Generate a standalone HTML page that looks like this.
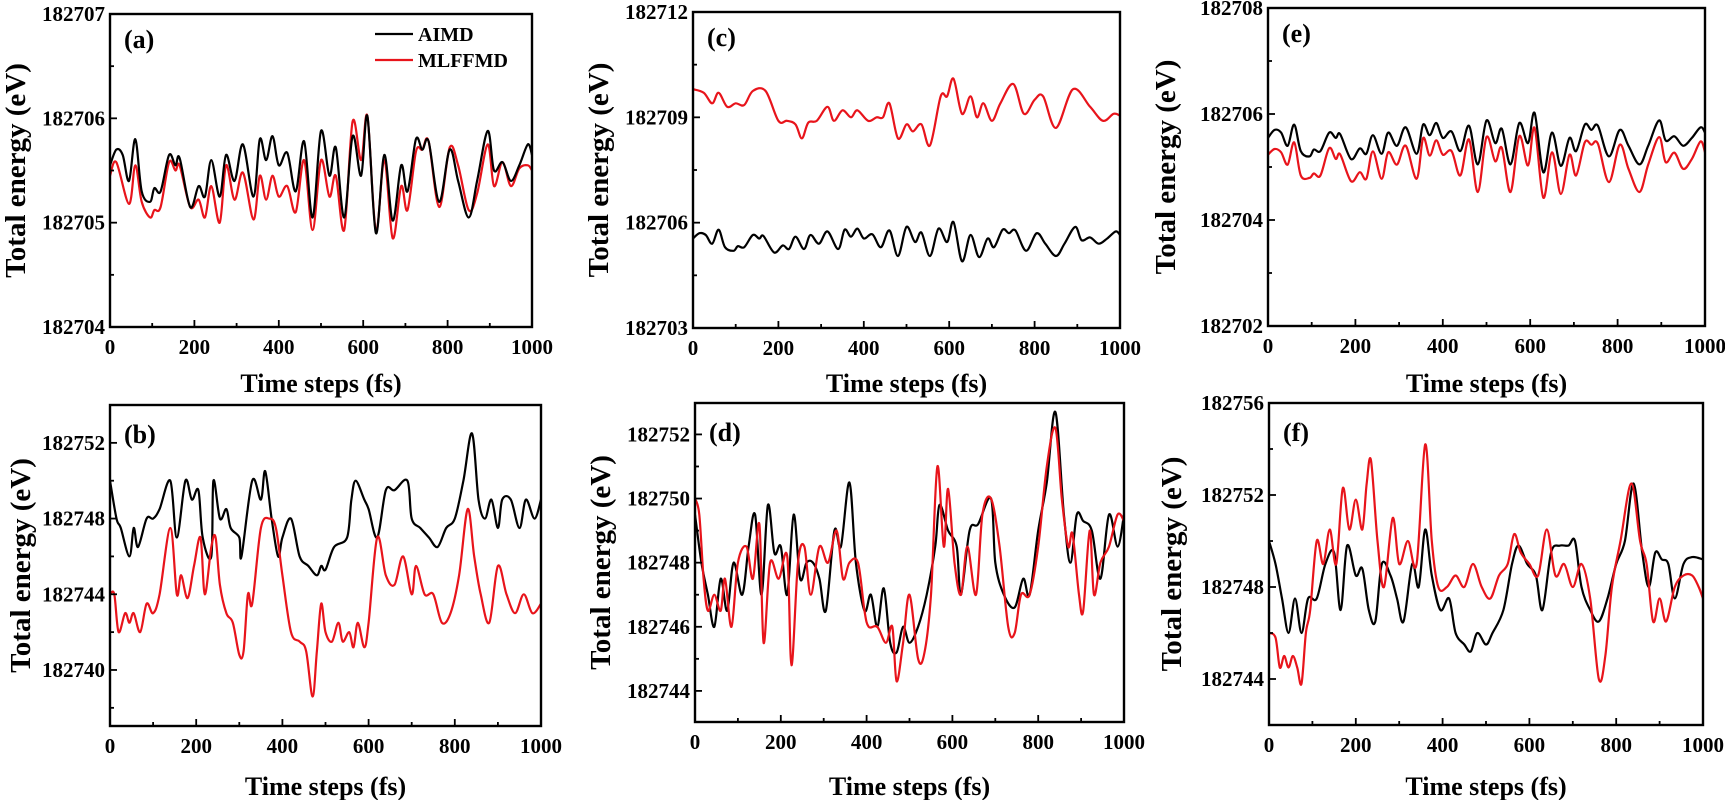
<!DOCTYPE html>
<html><head><meta charset="utf-8"><style>
html,body{margin:0;padding:0;background:#fff;}
svg text{font-family:"Liberation Serif",serif;font-weight:bold;fill:#000;}
</style></head><body>
<svg id="s" width="1725" height="800" xmlns="http://www.w3.org/2000/svg"></svg>
<script>
const S=document.getElementById('s');let out='';
const aB=[[0,5.55],[15,5.7],[30,5.65],[45,5.4],[60,5.8],[75,5.3],[95,5.2],[105,5.33],[120,5.3],[140,5.65],[155,5.55],[165,5.62],[190,5.15],[210,5.35],[225,5.25],[240,5.6],[260,5.25],[275,5.65],[295,5.4],[315,5.75],[340,5.25],[355,5.8],[370,5.6],[385,5.83],[400,5.55],[420,5.67],[440,5.3],[460,5.78],[480,5.05],[500,5.88],[520,5.45],[535,5.72],[555,5.05],[575,5.83],[595,5.45],[610,6.02],[630,4.9],[650,5.65],[670,5.02],[690,5.55],[705,5.3],[725,5.8],[740,5.7],[755,5.78],[780,5.2],[805,5.7],[825,5.4],[850,5.05],[870,5.4],[895,5.88],[910,5.5],[930,5.58],[950,5.4],[970,5.55],[990,5.75],[1000,5.65]];
const aR=[[0,5.45],[15,5.58],[45,5.18],[60,5.55],[75,5.2],[95,5.05],[105,5.12],[120,5.15],[140,5.58],[155,5.5],[165,5.55],[190,5.15],[210,5.22],[225,5.05],[240,5.35],[260,5.0],[275,5.55],[295,5.22],[315,5.48],[340,5.03],[355,5.45],[370,5.22],[385,5.45],[400,5.25],[420,5.35],[440,5.1],[460,5.6],[480,4.93],[500,5.6],[520,5.25],[535,5.45],[555,4.93],[575,5.97],[595,5.6],[610,6.02],[630,4.92],[650,5.6],[670,4.85],[690,5.35],[705,5.12],[725,5.68],[740,5.7],[755,5.78],[780,5.15],[805,5.72],[825,5.55],[850,5.12],[870,5.28],[895,5.75],[910,5.35],[930,5.58],[950,5.35],[970,5.52],[990,5.55],[1000,5.5]];
const eR=aB.map(([x,y],i)=>[x,5.5+(y-5.5)*1.25-0.38+(i%3==0?0.05:-0.03)]);
const cR=[[0,9.8],[25,9.7],[45,9.4],[60,9.7],[80,9.3],[100,9.4],[120,9.35],[140,9.75],[170,9.75],[200,8.9],[220,8.9],[240,8.8],[255,8.4],[270,8.85],[290,8.9],[315,9.3],[330,8.9],[350,9.2],[370,9.0],[385,9.2],[410,8.9],[430,9.0],[445,9.0],[460,9.4],[480,8.4],[500,8.8],[515,8.6],[535,8.8],[555,8.2],[580,9.6],[595,9.6],[610,10.1],[630,9.1],[650,9.6],[665,9.0],[680,9.4],[700,8.9],[720,9.4],[750,9.95],[775,9.1],[800,9.5],[820,9.6],[850,8.7],[890,9.8],[930,9.3],[960,8.9],[985,9.1],[1000,9.05]];
const bB=[[0,750],[15,748],[25,747.5],[45,746],[55,747.5],[65,746.5],[85,748],[100,748],[115,748.5],[140,750],[155,747],[175,750],[190,749],[205,749.5],[215,747],[235,746],[240,750],[255,748],[270,748.5],[280,747.5],[300,747],[305,746],[330,750],[350,749],[360,750.5],[375,748],[390,746],[400,747],[420,748],[440,746],[460,745.5],[480,745],[490,745.5],[500,745.3],[520,746.5],[550,747],[560,749],[570,750],[590,749],[600,748.5],[620,747],[640,749.5],[660,749.5],[690,750],[700,748],[720,747.5],[740,747],[760,746.5],[780,747.5],[800,748],[820,750],[840,752.5],[855,749],[870,748],[885,749],[900,747.5],[910,749],[930,749],[950,747.5],[965,749],[985,748],[1000,749]];
const bR=[[0,744],[10,744],[20,742],[35,743],[45,742.5],[55,743],[70,742],[85,743.5],[100,743],[115,744],[140,747.5],[155,744],[165,745],[180,743.8],[195,745.5],[210,747],[220,744],[235,746.5],[245,747],[255,744.5],[270,743],[285,742.5],[300,740.8],[310,741],[320,744],[330,743.5],[350,747.5],[370,748],[385,747.5],[400,745],[420,742],[440,741.5],[455,741],[470,738.6],[480,741],[490,743.5],[500,742],[515,741.5],[530,742.5],[540,741.5],[555,742],[565,741.2],[575,742.5],[590,741.2],[600,742.5],[620,747],[640,745],[660,744.5],[680,746],[700,744],[710,745.5],[730,744],[750,744],[770,742.5],[790,743],[810,745],[830,748.5],[845,746],[860,744],[880,742.5],[900,745.5],[920,744],[940,743],[960,744],[980,743],[1000,743.5]];
const dB=[[0,749.5],[15,748],[30,747],[45,746],[60,747.5],[75,746.5],[90,748],[110,747],[125,748.5],[140,749.5],[155,747],[170,749.8],[185,748.3],[200,748.5],[215,747],[230,749.5],[245,747.5],[260,748],[275,748],[290,747.5],[305,746.5],[325,749],[340,748.5],[360,750.5],[375,748],[395,746.5],[410,747],[425,746],[440,747.2],[455,745.5],[470,745.2],[485,746],[500,745.5],[520,746],[540,747],[560,748.5],[570,749.8],[590,749],[610,748.5],[620,747],[640,749],[660,749.2],[690,750],[700,748],[720,747],[745,746.6],[765,747.5],[780,747],[800,749],[820,750.5],[840,752.7],[860,749.5],[875,748],[890,749.5],[905,749.3],[925,749],[945,747.5],[965,749.5],[985,748.5],[1000,749.5]];
const dR=[[0,750],[10,749.5],[20,747.5],[30,746.5],[45,747],[60,746.5],[70,747.5],[85,746],[100,748],[120,748.5],[135,747.5],[150,749.2],[160,745.5],[175,748],[195,747.5],[215,748.2],[225,744.8],[240,748],[255,748.5],[270,747],[290,748.5],[310,748],[330,749],[345,747.5],[360,748],[380,748],[395,746.5],[405,746],[425,746],[445,745.5],[460,746],[470,744.3],[485,745.5],[500,747],[520,745],[535,745.2],[550,747],[565,751],[580,748.5],[590,750.3],[605,748],[620,747],[635,748.5],[655,747],[670,749.5],[690,750],[710,748.5],[730,746],[745,745.8],[760,747],[780,747],[800,748.5],[820,751],[840,752.2],[855,750],[870,748.5],[880,748.9],[895,747],[905,746.5],[920,749],[930,747],[945,748],[965,748.5],[985,749.5],[1000,749.3]];
const fR=[[0,746],[15,745.8],[25,744.5],[35,745],[45,744.5],[55,745],[65,744.5],[75,743.8],[85,746],[95,747],[110,750],[125,749],[140,750.5],[155,749],[170,752.3],[185,750.5],[200,751.8],[215,750.5],[225,752.5],[235,753.5],[250,750],[265,748],[285,751],[300,749],[320,750],[340,749],[360,754.2],[375,750],[390,748],[410,748],[430,748.5],[450,748],[470,749],[490,748],[510,747.5],[530,748.5],[550,749],[565,750.3],[580,749.5],[600,749],[620,748.5],[640,750.5],[660,748.5],[680,749],[700,748],[720,749],[740,747.5],[760,744],[775,745],[790,748],[810,750],[835,752.5],[855,750],[870,749],[885,746.5],[900,747.5],[915,746.5],[935,748],[955,748.5],[975,748.5],[990,748],[1000,747.5]];
const fB=[[0,750],[15,749],[30,747.5],[45,746],[60,747.5],[75,746],[90,747.5],[110,747.5],[130,749],[150,749.5],[165,747],[180,749.8],[200,748.5],[215,748.8],[230,747],[245,746.5],[260,749],[280,748.5],[295,747.5],[310,746.5],[330,749],[345,748],[360,750.5],[375,748.5],[395,747],[415,747.5],[430,746],[450,745.5],[465,745.2],[480,746],[500,745.5],[515,746],[540,747],[560,749],[575,749.8],[595,749],[615,748.5],[630,747],[650,749.5],[670,749.8],[690,749.8],[705,750],[720,748],[740,747],[760,746.5],[780,747.5],[800,749],[820,750],[840,752.5],[860,749.5],[875,748],[890,749.5],[905,749.2],[920,749],[935,747.5],[955,749],[975,749.3],[1000,749.2]];
const P=[
 {L:110,R:532,T:14,B:327,y0:182704,y1:182707,base:182700,lab:[4,5,6,7],mn:0.5,t:'(a)',ser:[[aR,'#e8141b',182700],[aB,'#000',182700]],yt:15,leg:1},
 {L:693,R:1120,T:12,B:328,y0:182703,y1:182712,base:182700,lab:[3,6,9,12],mn:1.5,t:'(c)',ser:[[cR,'#e8141b',182700],[aB,'#000',182700]],yt:598},
 {L:1268,R:1705,T:8,B:326,y0:182702,y1:182708,base:182700,lab:[2,4,6,8],mn:1,t:'(e)',ser:[[eR,'#e8141b',182700],[aB,'#000',182700]],yt:1165},
 {L:110,R:541,T:405,B:726,y0:182737.04,y1:182754,base:182000,lab:[740,744,748,752],mn:2,t:'(b)',ser:[[bB,'#000',182000],[bR,'#e8141b',182000]],yt:20},
 {L:695,R:1124,T:403,B:722,y0:182743.03,y1:182752.98,base:182000,lab:[744,746,748,750,752],mn:1,t:'(d)',ser:[[dB,'#000',182000],[dR,'#e8141b',182000]],yt:600},
 {L:1269,R:1703,T:403,B:725,y0:182742,y1:182756,base:182000,lab:[744,748,752,756],mn:2,t:'(f)',ser:[[fB,'#000',182000],[fR,'#e8141b',182000]],yt:1171},
];
function path(pts){let d='M'+pts[0][0].toFixed(1)+','+pts[0][1].toFixed(1);
 for(let i=0;i<pts.length-1;i++){const p0=pts[Math.max(0,i-1)],p1=pts[i],p2=pts[i+1],p3=pts[Math.min(pts.length-1,i+2)];
 const c1=[p1[0]+(p2[0]-p0[0])/6,p1[1]+(p2[1]-p0[1])/6],c2=[p2[0]-(p3[0]-p1[0])/6,p2[1]-(p3[1]-p1[1])/6];
 d+=`C${c1[0].toFixed(1)},${c1[1].toFixed(1)} ${c2[0].toFixed(1)},${c2[1].toFixed(1)} ${p2[0].toFixed(1)},${p2[1].toFixed(1)}`;}return d;}
P.forEach((p,k)=>{
 const X=v=>p.L+(p.R-p.L)*v/1000,Y=v=>p.B-(p.B-p.T)*(v-p.y0)/(p.y1-p.y0);
 const bottom=k>=3;
 out+=`<clipPath id="c${k}"><rect x="${p.L}" y="${p.T}" width="${p.R-p.L}" height="${p.B-p.T}"/></clipPath><g clip-path="url(#c${k})">`;
 p.ser.forEach(([s,c,b])=>{out+=`<path d="${path(s.map(([x,y])=>[X(x),Y(b+y)]))}" fill="none" stroke="${c}" stroke-width="2.2"/>`;});
 out+='</g>';
 out+=`<rect x="${p.L}" y="${p.T}" width="${p.R-p.L}" height="${p.B-p.T}" fill="none" stroke="#000" stroke-width="2.4"/>`;
 for(let v=0;v<=1000;v+=100){const x=X(v);out+=`<line x1="${x}" x2="${x}" y1="${p.B}" y2="${p.B-(v%200?4:7)}" stroke="#000" stroke-width="1.8"/>`;
  if(v%200==0)out+=`<text x="${x}" y="${p.B+27}" font-size="21" text-anchor="middle">${v}</text>`;}
 const lo=p.lab[0];
 const vals=[];for(let v=lo-p.mn*6;v<=p.lab[p.lab.length-1]+p.mn*6;v+=p.mn)vals.push(v);
 vals.forEach(v=>{const yv=p.base+v;if(yv<p.y0-1e-6||yv>p.y1+1e-6)return;const y=Y(yv);const maj=p.lab.some(l=>Math.abs(l-v)<1e-6);
  out+=`<line x1="${p.L}" x2="${p.L+(maj?7:4)}" y1="${y}" y2="${y}" stroke="#000" stroke-width="1.8"/>`;
  if(maj)out+=`<text x="${p.L-5}" y="${y+7}" font-size="21" text-anchor="end">${p.base+v}</text>`;});
 out+=`<text x="${(p.L+p.R)/2}" y="${bottom?795:392}" font-size="26" text-anchor="middle">Time steps (fs)</text>`;
 const cy=(p.T+p.B)/2;out+=`<text x="0" y="0" transform="translate(${p.yt+10},${cy}) rotate(-90)" font-size="29" text-anchor="middle">Total energy (eV)</text>`;
 out+=`<text x="${p.L+14}" y="${p.T+(bottom?38:34)}" font-size="26">${p.t}</text>`;
 if(p.leg){out+=`<line x1="375" x2="413" y1="34" y2="34" stroke="#000" stroke-width="2.2"/><text x="418" y="41" font-size="20">AIMD</text><line x1="375" x2="413" y1="60" y2="60" stroke="#e8141b" stroke-width="2.2"/><text x="418" y="67" font-size="20">MLFFMD</text>`;}
});
S.innerHTML=out;
</script>
</body></html>
